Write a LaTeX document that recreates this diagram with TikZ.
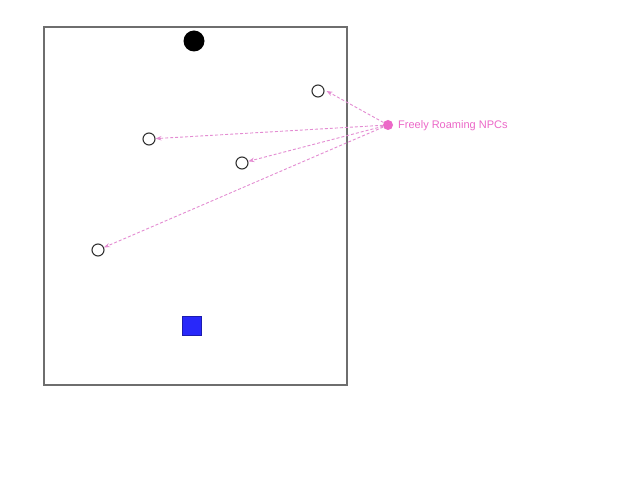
\documentclass[tikz,border=0pt]{standalone}
\usepackage{fontspec}
\setmainfont{Liberation Sans}
\usetikzlibrary{arrows.meta}
\definecolor{npcpink}{RGB}{236,104,200}
\definecolor{arrowpink}{RGB}{228,140,210}
\definecolor{boxgray}{RGB}{110,110,110}
\definecolor{sqblue}{RGB}{40,40,250}
\begin{document}
\begin{tikzpicture}[x=1pt,y=-1pt,
  npc/.style={circle,draw=black!80,line width=1.1pt,minimum size=12pt,inner sep=0pt},
  npcarrow/.style={draw=arrowpink,dashed,dash pattern=on 3pt off 2pt,line width=0.9pt,-{Stealth[length=6pt,width=4.5pt]}}]
\useasboundingbox (0,0) rectangle (638,478);
\fill[white] (0,0) rectangle (638,478);
\node[draw=boxgray,line width=1.6pt,minimum width=303pt,minimum height=358pt,inner sep=0pt] (room) at (195.5,206) {};
\node[circle,fill=black,minimum size=21pt,inner sep=0pt] (player) at (194,41) {};
\node[npc] (n1) at (318,91) {};
\node[npc] (n2) at (149,139) {};
\node[npc] (n3) at (242,163) {};
\node[npc] (n4) at (98,250) {};
\node[fill=sqblue,draw=sqblue!70!black,line width=0.4pt,minimum size=19pt,inner sep=0pt] (goal) at (192,326) {};
\node[circle,fill=npcpink,minimum size=10pt,inner sep=0pt] (src) at (388,125) {};
\node[anchor=west,text=npcpink,font=\fontsize{11pt}{13pt}\selectfont,inner sep=0pt] (lbl) at (398,125.5) {Freely Roaming NPCs};
\draw[npcarrow] (src) -- ([shift={(2pt,0)}]n1.east) ;
\draw[npcarrow] (src) -- (n2);
\draw[npcarrow] (src) -- (n3);
\draw[npcarrow] (src) -- (n4);
\end{tikzpicture}
\end{document}
